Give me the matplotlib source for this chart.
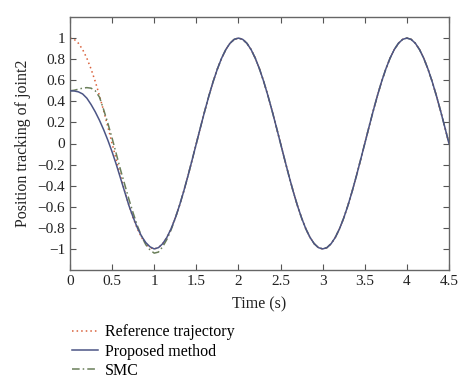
import matplotlib
matplotlib.use("Agg")
import matplotlib.pyplot as plt
import numpy as np

plt.rcParams['font.family'] = ['Liberation Serif', 'DejaVu Serif']

# time samples (s)
time = [round(0.05 * i, 2) for i in range(91)]

# one period of the reference as read (0..2 s, 0.05 s step)
ref_period = [1.0, 0.988, 0.951, 0.891, 0.809, 0.707, 0.588, 0.454, 0.309, 0.156,
              0.0, -0.156, -0.309, -0.454, -0.588, -0.707, -0.809, -0.891, -0.951, -0.988,
              -1.0, -0.988, -0.951, -0.891, -0.809, -0.707, -0.588, -0.454, -0.309, -0.156,
              0.0, 0.156, 0.309, 0.454, 0.588, 0.707, 0.809, 0.891, 0.951, 0.988]
reference = ref_period + ref_period + [1.0, 0.988, 0.951, 0.891, 0.809, 0.707, 0.588, 0.454, 0.309, 0.156, 0.0]

proposed_start = [0.5, 0.498, 0.49, 0.47, 0.43, 0.37, 0.30, 0.22, 0.13, 0.03,
                  -0.08, -0.20, -0.33, -0.46, -0.59, -0.70, -0.80, -0.88, -0.94, -0.98, -1.0]
smc_start = [0.5, 0.505, 0.515, 0.525, 0.53, 0.525, 0.50, 0.44, 0.32, 0.19,
             0.05, -0.10, -0.25, -0.39, -0.53, -0.66, -0.78, -0.88, -0.96, -1.01,
             -1.04, -1.03, -0.98, -0.91, -0.82, -0.71]
proposed = proposed_start + reference[len(proposed_start):]
smc = smc_start + reference[len(smc_start):]

xticks = [0, 0.5, 1, 1.5, 2, 2.5, 3, 3.5, 4, 4.5]
xticklabels = ['0', '0.5', '1', '1.5', '2', '2.5', '3', '3.5', '4', '4.5']
yticks = [-1, -0.8, -0.6, -0.4, -0.2, 0, 0.2, 0.4, 0.6, 0.8, 1]
yticklabels = ['\u22121', '\u22120.8', '\u22120.6', '\u22120.4', '\u22120.2', '0',
               '0.2', '0.4', '0.6', '0.8', '1']

fig = plt.figure(figsize=(4.74, 3.91), dpi=100)
ax = fig.add_axes([70/474, 1 - 270/391, (449-70)/474, (270-17)/391])

l1, = ax.plot(time, reference, linestyle=(0, (1, 2)), color='#d9603a', lw=1.1,
              label='Reference trajectory', zorder=2)
l3, = ax.plot(time, smc, linestyle=(0, (5, 2, 1, 2)), color='#6a7f5a', lw=1.1,
              label='SMC', zorder=3)
l2, = ax.plot(time, proposed, '-', color='#4c5585', lw=1.1, label='Proposed method',
              zorder=4)

ax.set_xlim(0, 4.5)
ax.set_ylim(-1.2, 1.2)
ax.set_xticks(xticks)
ax.set_xticklabels(xticklabels)
ax.set_yticks(yticks)
ax.set_yticklabels(yticklabels)
ax.tick_params(direction='in', top=True, right=True, length=4, width=0.8,
               colors='#555555', labelcolor='#222222', labelsize=11)
for s in ax.spines.values():
    s.set_color('#666666')
    s.set_linewidth(1.0)

ax.set_xlabel('Time (s)', fontsize=11.5, color='#222222', labelpad=6)
ax.set_ylabel('Position tracking of joint2', fontsize=11.5, color='#222222', labelpad=5)

fig.legend(handles=[l1, l2, l3], loc='upper left', bbox_to_anchor=(66/474, 1 - 318/391),
           frameon=False, fontsize=11.5, handlelength=1.6, handletextpad=0.45,
           labelspacing=0.2, borderaxespad=0)

fig.savefig('out.png', dpi=100)
